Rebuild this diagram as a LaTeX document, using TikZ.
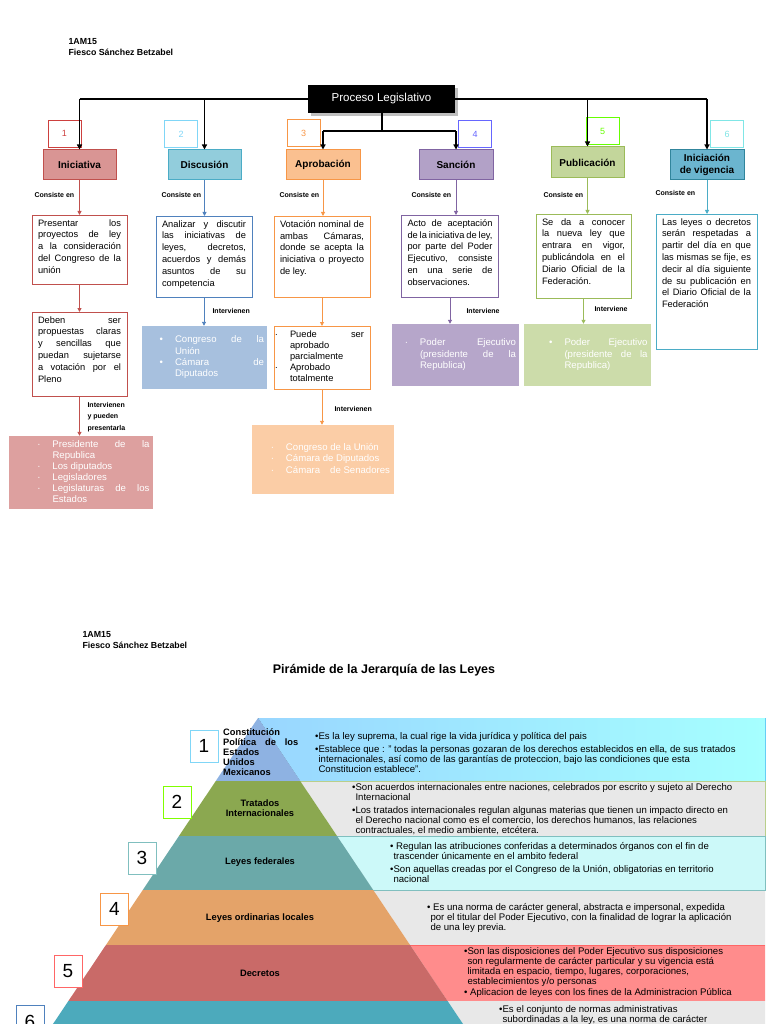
\documentclass[tikz,border=0pt]{standalone}
\usepackage{fontspec}
\setmainfont{Liberation Sans}
\usetikzlibrary{arrows.meta,shadows}
\definecolor{rA}{HTML}{C0504D}\definecolor{rF}{HTML}{D99594}
\definecolor{bA}{HTML}{4BACC6}\definecolor{bF}{HTML}{92CDDC}
\definecolor{oA}{HTML}{F79646}\definecolor{oF}{HTML}{FAC090}
\definecolor{pA}{HTML}{8064A2}\definecolor{pF}{HTML}{B2A1C7}
\definecolor{gA}{HTML}{9BBB59}\definecolor{gF}{HTML}{C3D69B}
\definecolor{tA}{HTML}{31859C}\definecolor{tF}{HTML}{6BB5CF}
\definecolor{dB}{HTML}{4F81BD}
\newcommand\pb[3]{\parbox[t][#2pt][t]{#1pt}{\hyphenpenalty=10000\exhyphenpenalty=10000\rightskip=0pt #3}}
\newcommand\bl[3]{\begin{tabular}{@{}l@{}p{#2pt}@{}}#3\end{tabular}}
\newcommand\bu[2]{\makebox[#1pt][r]{#2\hspace{12pt}}}
\begin{document}
\begin{tikzpicture}[x=1pt,y=-1pt,
 hdr/.style={draw=#1,line width=1pt,font=\fontsize{10}{11}\selectfont\bfseries,align=center,inner sep=1pt},
 num/.style={draw=#1,text=#1,line width=0.8pt,minimum width=33pt,minimum height=27pt,font=\fontsize{9}{9}\selectfont,inner sep=0pt},
 desc/.style={draw=#1,line width=0.8pt,fill=white,font=\fontsize{9.3}{11.8}\selectfont,inner xsep=6pt,inner ysep=4pt,anchor=north},
 fb/.style={fill=#1,text=white,font=\fontsize{9.6}{11.3}\selectfont,inner sep=3pt},
 lab/.style={font=\fontsize{7}{9.5}\selectfont\bfseries,anchor=west,align=left},
 ar/.style={draw=#1,line width=0.9pt,-{Triangle[length=4pt,width=4pt]}},
 blk/.style={line width=1.4pt,-{Triangle[length=5pt,width=5pt]}},
 pl/.style={font=\fontsize{9.3}{10}\selectfont\bfseries},
 rt/.style={font=\fontsize{9.6}{10}\selectfont,anchor=north west,align=left,inner sep=0pt},
 pn/.style={draw=#1,line width=0.8pt,fill=white,minimum width=28pt,minimum height=32pt,font=\fontsize{19}{19}\selectfont,inner sep=0pt}]
\useasboundingbox (0,0) rectangle (768,1024);
\clip (0,0) rectangle (768,1024);
\hyphenpenalty=10000 \exhyphenpenalty=10000
% headers
\node[font=\fontsize{8.8}{10.5}\selectfont\bfseries,anchor=west,align=left] (h1) at (65,47) {1AM15\\Fiesco Sánchez Betzabel};
\node[font=\fontsize{8.8}{10.5}\selectfont\bfseries,anchor=west,align=left] (h2) at (79,640) {1AM15\\Fiesco Sánchez Betzabel};
\node[fill=black,text=white,minimum width=147pt,minimum height=28pt,font=\fontsize{11.5}{12}\selectfont,drop shadow] (T) at (381.5,99) {Proceso Legislativo};
% number boxes
\node[num=rA!80!red] (n1) at (64.5,133.5) {1};
\node[num=cyan!50] (n2) at (181,134) {2};
\node[num=oA] (n3) at (303.5,133) {3};
\node[num=blue!60] (n4) at (475,134) {4};
\node[num=green!60!yellow] (n5) at (602.5,131) {5};
\node[num=teal!40!cyan!50] (n6) at (727,134) {6};
% step headers
\node[hdr=rA,fill=rF,minimum width=73pt,minimum height=30pt] (A) at (79.5,165) {Iniciativa};
\node[hdr=bA,fill=bF,minimum width=73pt,minimum height=30pt] (B) at (204.5,165) {Discusión};
\node[hdr=oA,fill=oF,minimum width=74pt,minimum height=30pt] (C) at (323,165) {Aprobación};
\node[hdr=pA,fill=pF,minimum width=74pt,minimum height=30pt] (D) at (456,165) {Sanción};
\node[hdr=gA,fill=gF,minimum width=73pt,minimum height=31pt] (E) at (587.5,162.5) {Publicación};
\node[hdr=tA,fill=tF,minimum width=74pt,minimum height=30pt,font=\fontsize{10}{12}\selectfont\bfseries] (F) at (707,165) {Iniciación\\de vigencia};
% title connectors
\coordinate (L1) at (308,99); \coordinate (R1) at (455,99); \coordinate (M) at (382,113);
\draw[line width=1.4pt] (79.5,99) -- (L1) (R1) -- (707,99);
\draw[blk] (79.5,99) -- (A.north);
\draw[blk] (204.5,99) -- (B.north);
\draw[blk] (587.5,99) -- (E.north);
\draw[blk] (707,99) -- (F.north);
\draw[line width=1.4pt] (M) -- (382,131) (323,131) -- (456,131);
\draw[blk] (323,131) -- (C.north);
\draw[blk] (456,131) -- (D.north);
% descriptions
\node[desc=rA] (a1) at (79.5,215) {\pb{83}{61}{Presentar los proyectos de ley a la consideración del Congreso de la unión}};
\node[desc=dB] (b1) at (204,216) {\pb{84}{73}{Analizar y discutir las iniciativas de leyes, decretos, acuerdos y demás asuntos de su competencia}};
\node[desc=oA] (c1) at (322,216) {\pb{84}{73}{Votación nominal de ambas Cámaras, donde se acepta la iniciativa o proyecto de ley.}};
\node[desc=pA] (d1) at (450,215) {\pb{85}{74}{Acto de aceptación de la iniciativa de ley, por parte del Poder Ejecutivo, consiste en una serie de observaciones.}};
\node[desc=gA] (e1) at (583.5,214) {\pb{83}{76}{Se da a conocer la nueva ley que entrara en vigor, publicándola en el Diario Oficial de la Federación.}};
\node[desc=bA] (f1) at (706.5,214) {\pb{89}{127}{Las leyes o decretos serán respetadas a partir del día en que las mismas se fije, es decir al día siguiente de su publicación en el Diario Oficial de la Federación}};
\node[desc=rA] (a2) at (79.5,312) {\pb{83}{76}{Deben ser propuestas claras y sencillas que puedan sujetarse a votación por el Pleno}};
\node[desc=oA,font=\fontsize{9.3}{10.8}\selectfont] (c2) at (322,326) {\pb{84}{55}{\bl{0}{74}{\bu{10}{·}&Puede ser aprobado parcialmente\\ \bu{10}{·}&Aprobado totalmente}}};
% filled
\node[fb=dB!50!white,minimum width=125pt,minimum height=63pt] (b2) at (204.5,357.5) {\bl{0}{89}{\bu{30}{•}&Congreso de la Unión\\ \bu{30}{•}&Cámara de Diputados}};
\node[fb=oF!80!white,minimum width=142pt,minimum height=69pt] (c3) at (323,459.5) {\bl{0}{104}{\bu{30}{·}&Congreso de la Unión\\ \bu{30}{·}&Cámara de Diputados\\ \bu{30}{·}&Cámara\hfill de Senadores}};
\node[fb=pF!95!white,minimum width=127pt,minimum height=62pt] (d2) at (455.5,355) {\bl{0}{96}{\bu{25}{·}&Poder Ejecutivo (presidente de la Republica)}};
\node[fb=gF!85!white,minimum width=126pt,minimum height=62pt] (e2) at (587,355) {\bl{0}{83}{\bu{38}{•}&Poder Ejecutivo (presidente de la Republica)}};
\node[fb=rF!90!white,minimum width=144pt,minimum height=73pt,font=\fontsize{9.6}{11}\selectfont] (a3) at (81,472.5) {\bl{0}{97}{\bu{40}{·}&Presidente de la Republica\\ \bu{40}{·}&Los diputados\\ \bu{40}{·}&Legisladores\\ \bu{40}{·}&Legislaturas de los Estados}};
% arrows with labels
\draw[ar=rA] (A.south) -- (A.south |- a1.north);
\draw[ar=dB] (B.south) -- (B.south |- b1.north);
\draw[ar=oA] (C.south) -- (C.south |- c1.north);
\draw[ar=pA] (D.south) -- (D.south |- d1.north);
\draw[ar=gA] (E.south) -- (E.south |- e1.north);
\draw[ar=bA] (F.south) -- (F.south |- f1.north);
\node[lab] (l1) at (31,195) {Consiste en};
\node[lab] (l2) at (158,195) {Consiste en};
\node[lab] (l3) at (276,195) {Consiste en};
\node[lab] (l4) at (408,195) {Consiste en};
\node[lab] (l5) at (540,195) {Consiste en};
\node[lab] (l6) at (652,193) {Consiste en};
\draw[ar=rA] (a1.south) -- (a2.north);
\draw[ar=dB] (b1.south) -- (b1.south |- b2.north);
\draw[ar=oA] (c1.south) -- (c2.north);
\draw[ar=pA] (d1.south) -- (d1.south |- d2.north);
\draw[ar=gA] (e1.south) -- (e1.south |- e2.north);
\draw[ar=rA] (a2.south) -- (a2.south |- a3.north);
\draw[ar=oA] (c2.south) -- (c2.south |- c3.north);
\node[lab] (l7) at (209,311) {Intervienen};
\node[lab] (l8) at (463,311) {Interviene};
\node[lab] (l9) at (591,309) {Interviene};
\node[lab] (l10) at (331,409) {Intervienen};
\node[lab,font=\fontsize{7}{11.5}\selectfont\bfseries] (l11) at (84,417) {Intervienen\\y pueden\\presentarla};
% ===== pyramid
\node[font=\fontsize{12.5}{13}\selectfont\bfseries] (PT) at (384,670) {Pirámide de la Jerarquía de las Leyes};
\def\R#1{({258+0.67*(#1-718)},#1)}
\def\Lf#1{({258-0.67*(#1-718)},#1)}
\fill[left color=cyan!60!blue!40, right color=cyan!35!white] (258,718) -- (765,718) -- (765,781) -- \R{781} -- cycle;
\fill[cyan!55!blue!45] (258,718) -- \R{781} -- \Lf{781} -- cycle;
\fill[gray!18] \R{781} -- (765,781) -- (765,836) -- \R{836} -- cycle;
\fill[teal!25!cyan!20!white] \R{836} -- (765,836) -- (765,890) -- \R{890} -- cycle;
\fill[gray!18] \R{890} -- (765,890) -- (765,945) -- \R{945} -- cycle;
\fill[red!45!white] \R{945} -- (765,945) -- (765,1001) -- \R{1001} -- cycle;
\fill[gray!18] \R{1001} -- (765,1001) -- (765,1030) -- \R{1030} -- cycle;
\draw[gA!70,line width=0.8pt] \R{781} -- (765,781) -- (765,836);
\draw[teal!50,line width=0.8pt] \R{836} -- (765,836) -- (765,890) -- \R{890};
\draw[red!60,line width=0.8pt] \R{945} -- (765,945);
\draw[cyan!60,line width=0.8pt] (765,718) -- (765,781);
\fill[gA!90!black] \Lf{781} -- \R{781} -- \R{836} -- \Lf{836} -- cycle;
\fill[teal!65!cyan!45!gray!80] \Lf{836} -- \R{836} -- \R{890} -- \Lf{890} -- cycle;
\fill[oA!55!brown!80] \Lf{890} -- \R{890} -- \R{945} -- \Lf{945} -- cycle;
\fill[rA!85!white] \Lf{945} -- \R{945} -- \R{1001} -- \Lf{1001} -- cycle;
\fill[bA!75!teal!90] \Lf{1001} -- \R{1001} -- \R{1030} -- \Lf{1030} -- cycle;
\node[pl,align=justify,text width=75pt,font=\fontsize{9.3}{10}\selectfont\bfseries,anchor=north west,inner sep=0pt] (p1) at (223,728) {Constitución Política de los Estados\\Unidos\\Mexicanos};
\node[pl,align=center] (p2) at (260,808) {Tratados\\Internacionales};
\node[pl] (p3) at (260,862) {Leyes federales};
\node[pl] (p4) at (260,918) {Leyes ordinarias locales};
\node[pl] (p5) at (260,973) {Decretos};
\node[pn=cyan!50] (q1) at (204,746) {1};
\node[pn=green!50!yellow] (q2) at (177,802) {2};
\node[pn=teal!50] (q3) at (142,858) {3};
\node[pn=oA] (q4) at (114.5,909) {4};
\node[pn=red!60] (q5) at (68,971) {5};
\node[pn=dB,anchor=north,font=\fontsize{19}{19}\selectfont,text depth=-2pt] (q6) at (30,1005) {6};
\node[rt] (r1) at (315,732) {•Es la ley suprema, la cual rige la vida jurídica y política del pais\\[3pt]•Establece que : " todas la personas gozaran de los derechos establecidos en ella, de sus tratados\\\phantom{•}internacionales, así como de las garantías de  proteccion, bajo las condiciones que esta\\\phantom{•}Constitucion establece".};
\node[rt] (r2) at (352,783) {•Son acuerdos internacionales entre naciones, celebrados por escrito y sujeto al Derecho\\\phantom{•}Internacional\\[3pt]•Los tratados internacionales regulan algunas materias que tienen un impacto directo en\\\phantom{•}el Derecho nacional como es el comercio, los derechos humanos, las relaciones\\\phantom{•}contractuales, el medio ambiente, etcétera.};
\node[rt] (r3) at (390,842) {• Regulan las atribuciones conferidas a determinados órganos con el fin de\\\phantom{•}trascender únicamente en el ambito federal\\[3pt]•Son aquellas creadas por el Congreso de la Unión, obligatorias en territorio\\\phantom{•}nacional};
\node[rt] (r4) at (427,903) {• Es una norma de carácter general, abstracta e impersonal, expedida\\\phantom{•}por el titular del Poder Ejecutivo, con la finalidad de lograr la aplicación\\\phantom{•}de una ley previa.};
\node[rt] (r5) at (464,947) {•Son las disposiciones del Poder Ejecutivo sus disposiciones\\\phantom{•}son regularmente de carácter particular y su vigencia está\\\phantom{•}limitada en espacio, tiempo, lugares, corporaciones,\\\phantom{•}establecimientos y/o personas\\[1pt]• Aplicacion de leyes con los fines de la Administracion Pública};
\node[rt] (r6) at (499,1005) {•Es el conjunto de normas administrativas\\\phantom{•}subordinadas a la ley, es una norma de carácter};
\end{tikzpicture}
\end{document}
